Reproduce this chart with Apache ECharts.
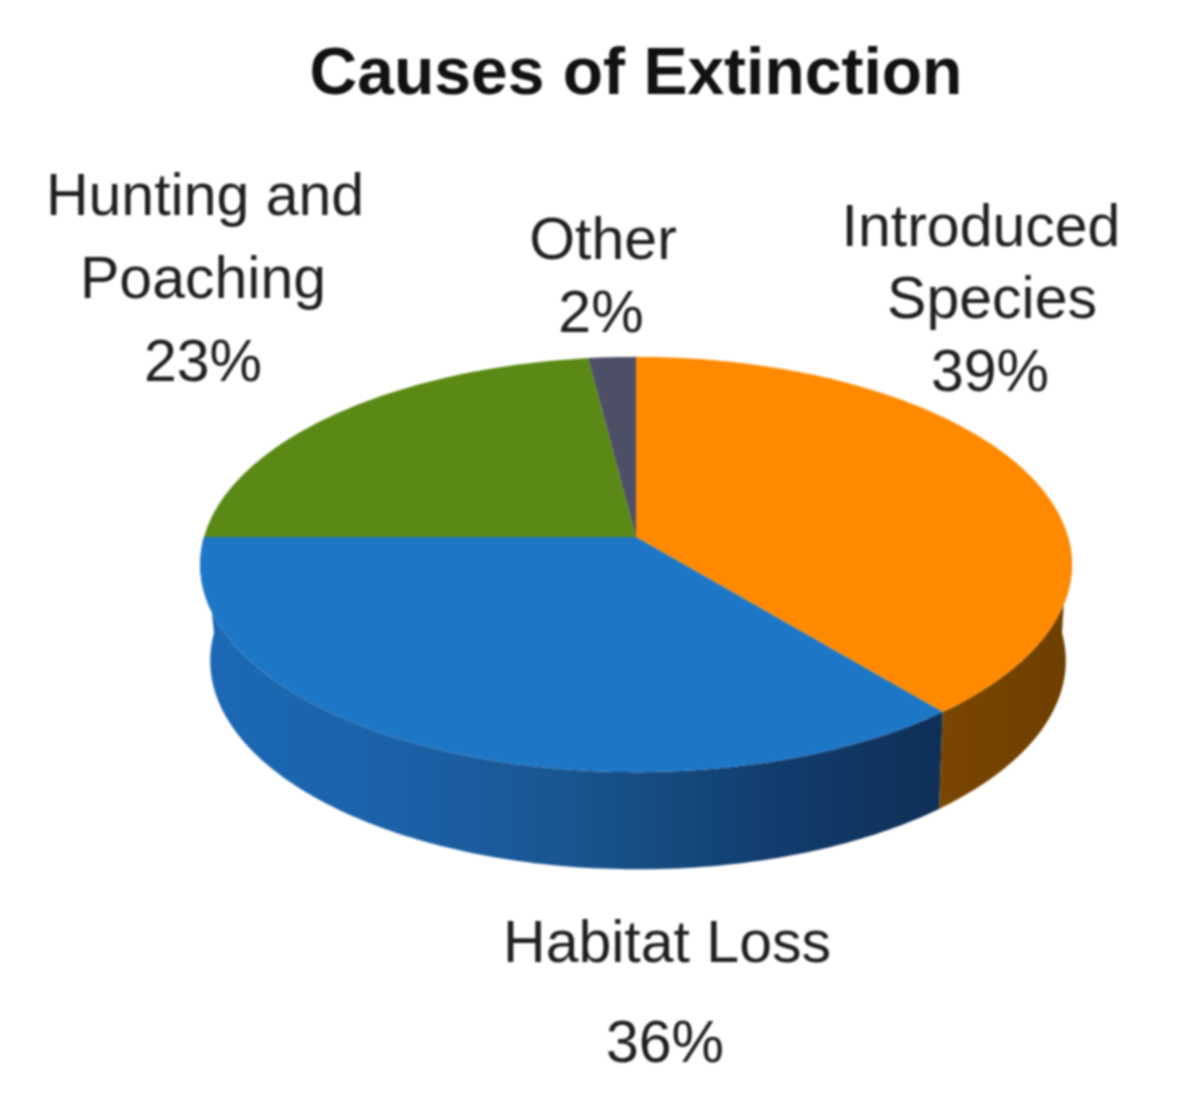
<!DOCTYPE html>
<html>
<head>
<meta charset="utf-8">
<style>html,body{margin:0;padding:0;background:#fff}#chart{width:1200px;height:1097px;filter:blur(0.9px)}</style>
<script src="https://cdn.jsdelivr.net/npm/echarts@6/dist/echarts.min.js"></script>
</head>
<body>
<div id="chart"></div>
<script>
// Data, clockwise from 12 o'clock
const categories = ['Introduced Species', 'Habitat Loss', 'Hunting and Poaching', 'Other'];
const shares = [39, 36, 23, 2];
const titleText = 'Causes of Extinction';
const labelLines = [['Introduced', 'Species'], ['Habitat Loss'], ['Hunting and', 'Poaching'], ['Other']];

// Styles and layout
const topColors = ['#ff8a00', '#1e76c6', '#5a8a15', '#4d4f66'];
const wallColors = [
  [[0, '#7a4600'], [1, '#6e3f00']],
  [[0, '#1c69b6'], [0.25, '#1b62a9'], [0.5, '#19558f'], [0.75, '#123f70'], [1, '#0e2f56']],
  null, null
];
// One [x, y] per text line; the last one of each is the percentage
const labelAnchors = [
  [[981, 230], [992, 302], [990, 375]],
  [[667, 946], [665, 1046]],
  [[205, 199], [203, 282], [203, 365]],
  [[603, 243], [601, 316]]
];

// Perspective disc: top face and (slightly smaller) bottom face
const topFace = { cx: 636, cy: 537, rx: 432, ry: 204 };
const bottomFace = { cx: 638, cy: 633, rx: 424, ry: 205 };
const tilt = 0.1325;

const total = shares.reduce((a, b) => a + b, 0);
function startAngle(i) {
  let s = 0;
  for (let k = 0; k < i; k++) s += shares[k];
  return s / total * 360;
}
function project(face, deg) {
  const r = deg * Math.PI / 180, u = Math.sin(r), v = Math.cos(r), w = 1 + tilt * v;
  return [face.cx + face.rx * u / w, face.cy - face.ry * v / w];
}
function arc(face, a0, a1) {
  const pts = [], n = Math.max(2, Math.ceil(Math.abs(a1 - a0)));
  for (let i = 0; i <= n; i++) pts.push(project(face, a0 + (a1 - a0) * i / n));
  return pts;
}

const wallSeries = {
  type: 'custom', coordinateSystem: 'none', z: 1, silent: true,
  data: shares,
  renderItem(params) {
    const i = params.dataIndex;
    const stops = wallColors[i];
    if (!stops) return { type: 'group', children: [] };
    const a0 = Math.max(startAngle(i), 90), a1 = Math.min(startAngle(i + 1), 270);
    const points = arc(topFace, a0, a1).concat(arc(bottomFace, a1, a0));
    const color = new echarts.graphic.LinearGradient(0, 0, 1, 0,
      stops.map(s => ({ offset: s[0], color: s[1] })));
    return { type: 'polygon', shape: { points }, style: { fill: color } };
  }
};

const topSeries = {
  type: 'custom', coordinateSystem: 'none', z: 2, silent: true,
  data: shares,
  renderItem(params, api) {
    const i = params.dataIndex;
    const points = [[topFace.cx, topFace.cy]].concat(arc(topFace, startAngle(i), startAngle(i + 1)));
    const lines = labelLines[i].concat([api.value(0) + '%']);
    const texts = lines.map((t, k) => ({
      type: 'text', x: labelAnchors[i][k][0], y: labelAnchors[i][k][1],
      style: {
        text: t, fill: '#1f1f1f', align: 'center', verticalAlign: 'middle',
        fontFamily: '"Liberation Sans", Arial, sans-serif', fontSize: 59
      }
    }));
    return {
      type: 'group',
      children: [{ type: 'polygon', shape: { points }, style: { fill: topColors[i] } }].concat(texts)
    };
  }
};

const chart = echarts.init(document.getElementById('chart'));
chart.setOption({
  backgroundColor: '#ffffff',
  animation: false,
  title: {
    text: titleText, left: 631, top: 38, textAlign: 'center',
    textStyle: { fontFamily: '"Liberation Sans", Arial, sans-serif', fontWeight: 'bold', fontSize: 66, color: '#111111' }
  },
  series: [wallSeries, topSeries]
});
</script>
</body>
</html>
